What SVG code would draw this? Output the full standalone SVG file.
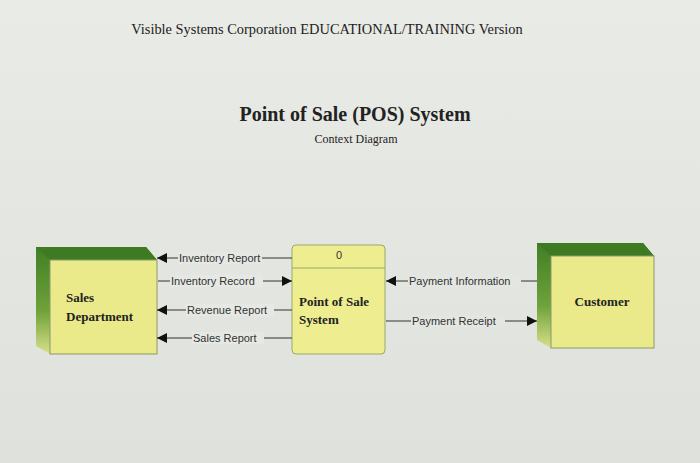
<svg xmlns="http://www.w3.org/2000/svg" width="700" height="463" viewBox="0 0 700 463">
<defs>
<linearGradient id="bg" x1="0" y1="0" x2="0" y2="1"><stop offset="0" stop-color="#e9ebe7"/><stop offset="1" stop-color="#dfe1dc"/></linearGradient>
<linearGradient id="side" x1="0" y1="0" x2="0" y2="1"><stop offset="0" stop-color="#3f7f25"/><stop offset="0.6" stop-color="#6fa23a"/><stop offset="1" stop-color="#d8e08a"/></linearGradient>
<marker id="ah" viewBox="0 0 10 10" refX="10" refY="5" markerWidth="10" markerHeight="10" markerUnits="userSpaceOnUse" orient="auto"><path d="M0,0 L10,5 L0,10 z" fill="#111"/></marker>
</defs>
<style>
.s{font-family:"Liberation Serif",serif;fill:#222}
.b{font-family:"Liberation Serif",serif;font-weight:bold;font-size:13px;fill:#222}
.l{font-family:"Liberation Sans",sans-serif;font-size:11px;fill:#333}
.ln{stroke:#333;stroke-width:1;fill:none}
.front{fill:#eaea8a;stroke:#8a9a6a;stroke-width:1}
</style>
<rect width="700" height="463" fill="url(#bg)"/>
<text class="s" x="327" y="34" font-size="14.4" text-anchor="middle">Visible Systems Corporation EDUCATIONAL/TRAINING Version</text>
<text class="s" x="355" y="121" font-size="20" font-weight="bold" text-anchor="middle">Point of Sale (POS) System</text>
<text class="s" x="356" y="143" font-size="12" text-anchor="middle">Context Diagram</text>
<g id="sales">
<path d="M36,247 L146,247 L157,260 L50,260 L50,354 L36,346 z" fill="url(#side)"/>
<path d="M36,247 L146,247 L157,260 L50,260 z" fill="#3d7a22"/>
<rect class="front" x="50" y="260" width="107" height="94"/>
<text class="b" x="66" y="302">Sales</text>
<text class="b" x="66" y="321">Department</text>
</g>
<g id="pos">
<rect x="292" y="245" width="93" height="109" rx="4" fill="#eeee90" stroke="#9aa86a"/>
<line x1="292" y1="268" x2="385" y2="268" stroke="#9aa86a"/>
<text class="l" x="339" y="259" font-size="8" text-anchor="middle">0</text>
<text class="b" x="299" y="306">Point of Sale</text>
<text class="b" x="299" y="324">System</text>
</g>
<g id="customer">
<path d="M537,243 L643,243 L654,256 L551,256 L551,348 L537,340 z" fill="url(#side)"/>
<path d="M537,243 L643,243 L654,256 L551,256 z" fill="#3d7a22"/>
<rect class="front" x="551" y="256" width="103" height="92"/>
<text class="b" x="602" y="306" text-anchor="middle">Customer</text>
</g>
<g id="connectors">
<path class="ln" d="M292,258 H157" marker-end="url(#ah)"/>
<path class="ln" d="M158,281 H292" marker-end="url(#ah)"/>
<path class="ln" d="M292,310 H157" marker-end="url(#ah)"/>
<path class="ln" d="M292,338 H157" marker-end="url(#ah)"/>
<path class="ln" d="M537,281 H386" marker-end="url(#ah)"/>
<path class="ln" d="M386,321 H537" marker-end="url(#ah)"/>
<g class="l">
<rect x="178" y="252" width="84" height="12" fill="#e6e8e4"/><text x="179" y="262">Inventory Report</text>
<rect x="170" y="275" width="93" height="12" fill="#e6e8e4"/><text x="171" y="285">Inventory Record</text>
<rect x="186" y="304" width="88" height="12" fill="#e6e8e4"/><text x="187" y="314">Revenue Report</text>
<rect x="192" y="332" width="72" height="12" fill="#e6e8e4"/><text x="193" y="342">Sales Report</text>
<rect x="408" y="275" width="113" height="12" fill="#e4e6e2"/><text x="409" y="285">Payment Information</text>
<rect x="411" y="315" width="94" height="12" fill="#e4e6e2"/><text x="412" y="325">Payment Receipt</text>
</g>
</g>
</svg>
